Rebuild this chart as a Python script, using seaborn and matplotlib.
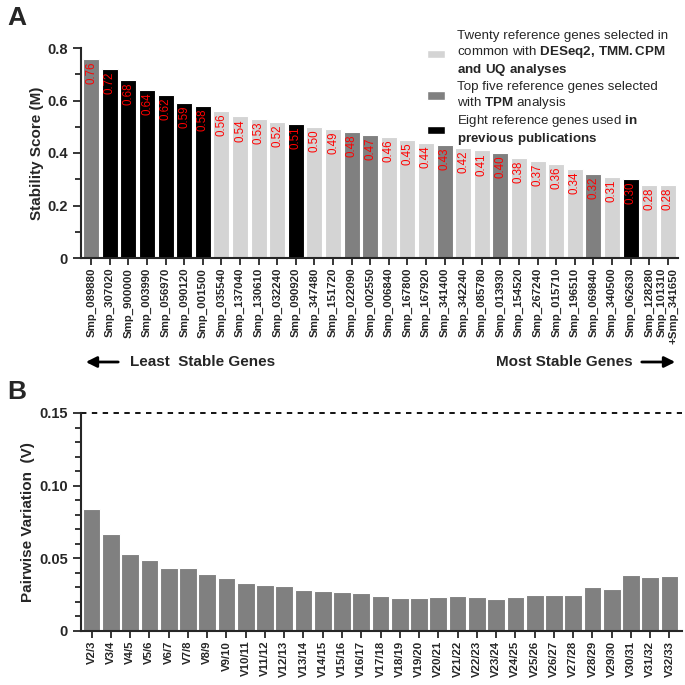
import matplotlib
matplotlib.use("Agg")
import matplotlib.pyplot as plt
import seaborn as sns
from matplotlib.patches import Patch
from matplotlib.ticker import MultipleLocator, FixedLocator

# -----------------------------
# Data
# -----------------------------
genes = ["Smp_089880", "Smp_307020", "Smp_900000", "Smp_003990", "Smp_056970",
         "Smp_090120", "Smp_001500", "Smp_035540", "Smp_137040", "Smp_130610",
         "Smp_032240", "Smp_090920", "Smp_347480", "Smp_151720", "Smp_022090",
         "Smp_002550", "Smp_006840", "Smp_167800", "Smp_167920", "Smp_341400",
         "Smp_342240", "Smp_085780", "Smp_013930", "Smp_154520", "Smp_267240",
         "Smp_015710", "Smp_196510", "Smp_069840", "Smp_340500", "Smp_062630",
         "Smp_128280", "Smp_101310\n+Smp_341650"]
stability = [0.76, 0.72, 0.68, 0.64, 0.62, 0.59, 0.58, 0.56, 0.54, 0.53,
             0.52, 0.51, 0.50, 0.49, 0.48, 0.47, 0.46, 0.45, 0.44, 0.43,
             0.42, 0.41, 0.40, 0.38, 0.37, 0.36, 0.34, 0.32, 0.31, 0.30,
             0.28, 0.28]
# group: common = light grey, tpm = dark grey, prev = black
group = ["tpm", "prev", "prev", "prev", "prev", "prev", "prev", "common", "common", "common",
         "common", "prev", "common", "common", "tpm", "tpm", "common", "common", "common", "tpm",
         "common", "common", "tpm", "common", "common", "common", "common", "tpm", "common", "prev",
         "common", "common"]

pairs = ["V2/3", "V3/4", "V4/5", "V5/6", "V6/7", "V7/8", "V8/9", "V9/10", "V10/11",
         "V11/12", "V12/13", "V13/14", "V14/15", "V15/16", "V16/17", "V17/18", "V18/19",
         "V19/20", "V20/21", "V21/22", "V22/23", "V23/24", "V24/25", "V25/26", "V26/27",
         "V27/28", "V28/29", "V29/30", "V30/31", "V31/32", "V32/33"]
pairwise_v = [0.084, 0.067, 0.053, 0.049, 0.0433, 0.0433, 0.0392, 0.0362, 0.0328,
              0.0314, 0.031, 0.0282, 0.0273, 0.0266, 0.0261, 0.0243, 0.0229,
              0.0227, 0.0236, 0.0243, 0.0236, 0.0218, 0.0236, 0.025, 0.0245,
              0.0248, 0.030, 0.0287, 0.0383, 0.0372, 0.0376]

colors = {"common": "#d4d4d4", "tpm": "#808080", "prev": "#000000"}

sns.set_style("ticks")
plt.rcParams['font.family'] = ['Liberation Sans', 'DejaVu Sans']
plt.rcParams['mathtext.fontset'] = 'custom'
plt.rcParams['mathtext.rm'] = 'Liberation Sans'
plt.rcParams['mathtext.bf'] = 'Liberation Sans:bold'

fig = plt.figure(figsize=(6.85, 6.85), dpi=100)
W = 685.0
axA = fig.add_axes([81 / W, 1 - 258 / W, (678 - 81) / W, (258 - 48) / W])
axB = fig.add_axes([81 / W, 1 - 631 / W, (682 - 81) / W, (631 - 413) / W])

# -----------------------------
# Panel A: stability score
# -----------------------------
sns.barplot(x=genes, y=stability, hue=group, palette=colors, dodge=False, legend=False,
            width=0.86, edgecolor="white", linewidth=0.8, saturation=1, ax=axA)
for i, v in enumerate(stability):
    axA.text(i, v - 0.01, f"{v:.2f}", rotation=90, ha="center", va="top",
             color="red", fontsize=8.3)
axA.set_ylim(0, 0.8)
axA.set_xlim(-0.55, len(genes) - 0.45)
axA.yaxis.set_major_locator(FixedLocator([0, 0.2, 0.4, 0.6, 0.8]))
axA.yaxis.set_minor_locator(MultipleLocator(0.1))
axA.set_yticklabels(["0", "0.2", "0.4", "0.6", "0.8"])
axA.set_ylabel("Stability Score (M)", fontsize=11, fontweight="bold", labelpad=2)
axA.tick_params(axis="x", rotation=90, labelsize=8.2, length=5, width=1.3, pad=2)
axA.tick_params(axis="y", labelsize=10.5, length=6, width=1.3)
axA.tick_params(axis="y", which="minor", length=4, width=1.3)
for lab in axA.get_xticklabels():
    lab.set_fontweight("bold")
    lab.set_multialignment("right")
for lab in axA.get_yticklabels():
    lab.set_fontweight("bold")
sns.despine(ax=axA)
for s in ["left", "bottom"]:
    axA.spines[s].set_linewidth(1.5)

handles = [Patch(facecolor=colors["common"]), Patch(facecolor=colors["tpm"]),
           Patch(facecolor=colors["prev"])]
labels = ["Twenty reference genes selected in\ncommon with $\\mathbf{DESeq2{,}\\ TMM.CPM}$\n$\\mathbf{and\\ UQ\\ analyses}$",
          "Top five reference genes selected\nwith $\\mathbf{TPM}$ analysis",
          "Eight reference genes used $\\mathbf{in}$\n$\\mathbf{previous\\ publications}$"]
leg = fig.legend(handles, labels, loc="upper left", bbox_to_anchor=(427 / W, 1 - 30 / W),
                 frameon=False, fontsize=9.6, borderpad=0, borderaxespad=0,
                 handlelength=1.35, handleheight=0.6, handletextpad=0.9, labelspacing=0.2)
for t in leg.get_texts():
    t.set_linespacing(1.18)

# least / most stable arrows
fig.text(130 / W, 1 - 362 / W, "Least  Stable Genes", fontsize=11, fontweight="bold",
         ha="left", va="center")
fig.text(633 / W, 1 - 362 / W, "Most Stable Genes", fontsize=11, fontweight="bold",
         ha="right", va="center")
axA.annotate("", xy=(83 / W, 1 - 362 / W), xytext=(121 / W, 1 - 362 / W),
             xycoords="figure fraction", textcoords="figure fraction",
             arrowprops=dict(arrowstyle="-|>", lw=2, color="black", mutation_scale=16))
axA.annotate("", xy=(678 / W, 1 - 362 / W), xytext=(639 / W, 1 - 362 / W),
             xycoords="figure fraction", textcoords="figure fraction",
             arrowprops=dict(arrowstyle="-|>", lw=2, color="black", mutation_scale=16))

# -----------------------------
# Panel B: pairwise variation
# -----------------------------
sns.barplot(x=pairs, y=pairwise_v, color="#808080", width=0.92, edgecolor="white",
            linewidth=0.8, saturation=1, ax=axB)
axB.axhline(0.15, color="black", linestyle=(0, (3, 3)), linewidth=1.3, clip_on=False)
axB.set_ylim(0, 0.15)
axB.set_xlim(-0.55, len(pairs) - 0.35)
axB.yaxis.set_major_locator(FixedLocator([0, 0.05, 0.10, 0.15]))
axB.yaxis.set_minor_locator(MultipleLocator(0.01))
axB.set_yticklabels(["0", "0.05", "0.10", "0.15"])
axB.set_ylabel("Pairwise Variation  (V)", fontsize=11, fontweight="bold", labelpad=3)
axB.tick_params(axis="x", rotation=90, labelsize=8.2, length=5, width=1.3, pad=2)
axB.tick_params(axis="y", labelsize=10.5, length=6, width=1.3)
axB.tick_params(axis="y", which="minor", length=4, width=1.3)
for lab in axB.get_xticklabels() + axB.get_yticklabels():
    lab.set_fontweight("bold")
sns.despine(ax=axB)
for s in ["left", "bottom"]:
    axB.spines[s].set_linewidth(1.5)

fig.text(7 / W, 1 - 6 / W, "A", fontsize=19, fontweight="bold", ha="left", va="top")
fig.text(7 / W, 1 - 380 / W, "B", fontsize=19, fontweight="bold", ha="left", va="top")

fig.savefig("out.png", dpi=100)
